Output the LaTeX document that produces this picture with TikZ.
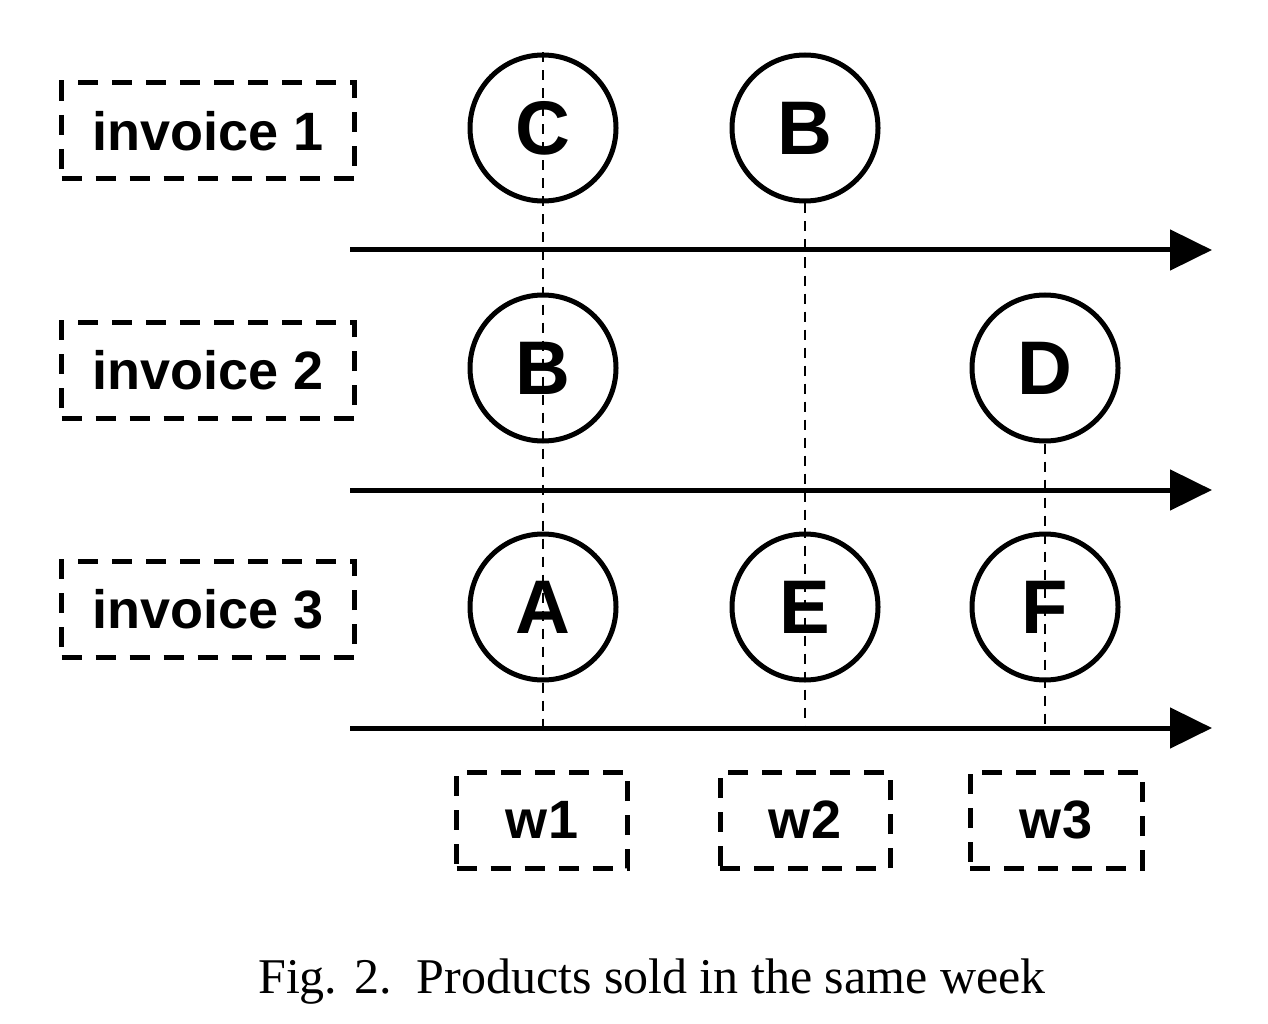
\documentclass[tikz,border=0pt]{standalone}
\usepackage{fontspec}
\setmainfont{Liberation Sans}
\newfontfamily\capfont{Liberation Serif}
\usetikzlibrary{arrows.meta}
\begin{document}
\begin{tikzpicture}[x=1pt,y=-1pt,
  lbl/.style={draw,line width=5pt,dash pattern=on 20pt off 14pt,minimum height=96pt,inner sep=0pt,font=\fontsize{54}{60}\selectfont\bfseries},
  item/.style={draw,circle,line width=5pt,minimum size=146pt,inner sep=0pt,font=\fontsize{76}{80}\selectfont\bfseries},
  axis/.style={line width=5pt,-{Triangle[length=42pt,width=40pt]}},
  guide/.style={line width=2.5pt,dash pattern=on 10pt off 8pt}]
\useasboundingbox (0,0) rectangle (1268,1024);
\node[lbl,minimum width=293pt] (i1) at (208,131) {invoice 1};
\node[lbl,minimum width=293pt] (i2) at (208,370) {invoice 2};
\node[lbl,minimum width=293pt] (i3) at (208,609) {invoice 3};
\node[item] (c1) at (543,128) {C};
\node[item] (b1) at (805,128) {B};
\node[item] (b2) at (543,368) {B};
\node[item] (d2) at (1045,368) {D};
\node[item] (a3) at (543,607) {A};
\node[item] (e3) at (805,607) {E};
\node[item] (f3) at (1045,607) {F};
\coordinate (s1) at (350,250); \coordinate (t1) at (1212,250);
\coordinate (s2) at (350,490); \coordinate (t2) at (1212,490);
\coordinate (s3) at (350,728); \coordinate (t3) at (1212,728);
\draw[axis] (s1) -- (t1);
\draw[axis] (s2) -- (t2);
\draw[axis] (s3) -- (t3);
\coordinate (g1) at (543,728); \coordinate (g2) at (805,728); \coordinate (g3) at (1045,728);
\draw[guide] (c1.north) -- (g1);
\draw[guide] (b1.south) -- (g2);
\draw[guide] (d2.south) -- (g3);
\node[lbl,minimum width=171pt] (w1) at (542,820) {w1};
\node[lbl,minimum width=170pt] (w2) at (805,820) {w2};
\node[lbl,minimum width=172pt] (w3) at (1056,820) {w3};
\node[font=\capfont\fontsize{50}{56}\selectfont] (cap) at (652,982) {Fig. 2.\ \ Products sold in the same week};
\end{tikzpicture}
\end{document}
